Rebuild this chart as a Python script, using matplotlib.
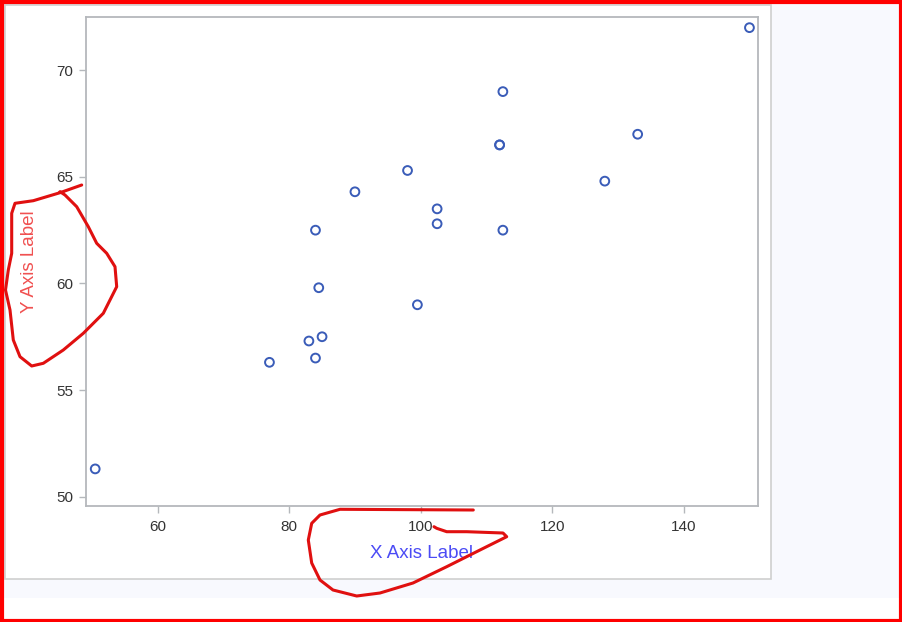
import matplotlib
matplotlib.use("Agg")
import matplotlib.pyplot as plt
from matplotlib.patches import Rectangle
from matplotlib.lines import Line2D

# Data (weight vs height)
weight = [112.5, 84.0, 98.0, 102.5, 102.5, 83.0, 84.5, 112.5, 84.0, 99.5,
          50.5, 90.0, 77.0, 112.0, 150.0, 128.0, 133.0, 85.0, 112.0]
height = [69.0, 56.5, 65.3, 62.8, 63.5, 57.3, 59.8, 62.5, 62.5, 59.0,
          51.3, 64.3, 56.3, 66.5, 72.0, 64.8, 67.0, 57.5, 66.5]
xticks = [60, 80, 100, 120, 140]
yticks = [50, 55, 60, 65, 70]
xlabel = "X Axis Label"
ylabel = "Y Axis Label"

W, H = 902, 622
fig = plt.figure(figsize=(W / 100, H / 100), dpi=100)
fig.patch.set_facecolor("white")

def fx(px):
    return px / W

def fy(py):
    return 1 - py / H

# background areas
fig.patches.append(Rectangle((fx(3), fy(598)), fx(896), 595 / H, transform=fig.transFigure,
                             facecolor="#f8f9fe", edgecolor="none", zorder=-20))
fig.patches.append(Rectangle((fx(4.5), fy(578.5)), fx(766.5), 574 / H, transform=fig.transFigure,
                             facecolor="white", edgecolor="#cfcfcf", linewidth=1.2, zorder=-19))
# red outer border
fig.patches.append(Rectangle((fx(1.5), fy(620.5)), fx(899), 619 / H, transform=fig.transFigure,
                             facecolor="none", edgecolor="#ff0000", linewidth=3, zorder=10))

ax = fig.add_axes([fx(86), fy(506), fx(758 - 86), (506 - 17) / H])
ax.set_zorder(1)
ax.set_facecolor("white")
ax.scatter(weight, height, s=40, facecolors="none", edgecolors="#3a5cb8", linewidths=1.4, zorder=3)
ax.set_xlim(49.1, 151.3)
ax.set_ylim(49.56, 72.5)
ax.set_xticks(xticks)
ax.set_yticks(yticks)
for sp in ax.spines.values():
    sp.set_color("#b5b8bc")
    sp.set_linewidth(1.3)
ax.tick_params(axis="both", colors="#b5b8bc", labelcolor="#333333", length=5, width=1,
               labelsize=11)
ax.tick_params(axis="x", pad=5)
ax.tick_params(axis="y", pad=4)
for lab in ax.get_xticklabels() + ax.get_yticklabels():
    lab.set_fontfamily("Liberation Sans")

fig.text(fx(421), fy(553), xlabel, color="#4b4bf5", fontsize=13.5, ha="center", va="center",
         family="Liberation Sans", zorder=5)
fig.text(fx(30), fy(262), ylabel, color="#f05050", fontsize=13.5, ha="center", va="center",
         rotation=90, family="Liberation Sans", zorder=5)

# hand-drawn red annotations (pixel coordinates)
yloop = [(81.7, 185), (60, 192.7), (33.3, 200.7), (15, 203.3), (11.7, 213.3), (11.7, 253.3),
         (8.3, 270), (5.5, 290), (10, 310), (13.3, 340), (20, 356.7), (31.7, 366), (43.3, 363.3),
         (63.3, 350), (83.3, 333.3), (103.3, 313.3), (116.7, 286.7), (115, 266.7), (106.7, 253.3),
         (96.7, 243.3), (88.3, 226.7), (76.7, 206.7), (65, 195), (60, 191.7)]
xloop = [(473.3, 510), (340, 509.3), (320, 515), (311.7, 523.3), (308.3, 540), (311.7, 563),
         (320, 580), (333, 590), (356.7, 596), (380, 593), (413, 583), (446.7, 566.7),
         (480, 550), (506.7, 536.7), (503, 533), (466.7, 531.7), (446.7, 531.7),
         (436.7, 528.3), (434, 526.7)]
for path in (yloop, xloop):
    xs = [fx(p[0]) for p in path]
    ys = [fy(p[1]) for p in path]
    fig.lines.append(Line2D(xs, ys, transform=fig.transFigure, color="#e01010", linewidth=2.2,
                            solid_capstyle="round", solid_joinstyle="round", zorder=11))

fig.savefig("out.png", dpi=100)
